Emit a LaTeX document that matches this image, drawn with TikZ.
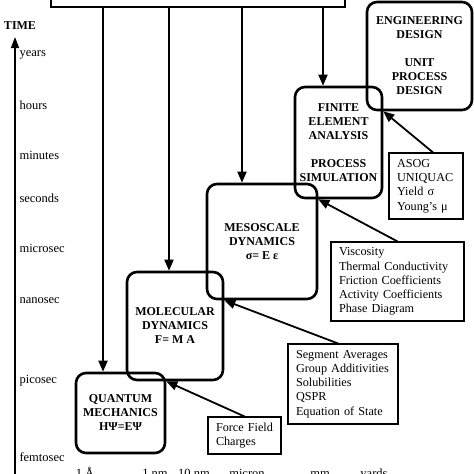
\documentclass[tikz,border=0pt]{standalone}
\usepackage{fontspec}
\setmainfont{Liberation Serif}
\usetikzlibrary{arrows.meta,calc}
\tikzset{
    scale box/.style={draw, line width=2.6pt, rounded corners=10pt, align=center, inner sep=0pt,
        font=\bfseries\fontsize{12}{14}\selectfont},
    data box/.style={draw, line width=1.1pt, align=left, inner xsep=8pt, inner ysep=0pt,
        font=\fontsize{12.2}{14.2}\selectfont},
    link arrow/.style={-{Triangle[length=11pt,width=9pt]}, line width=1.8pt},
    time label/.style={anchor=west, font=\fontsize{12.5}{14}\selectfont},
    size label/.style={anchor=base, font=\fontsize{12.5}{14}\selectfont}
}
\begin{document}
\begin{tikzpicture}[x=1pt,y=-1pt]
\useasboundingbox (0,0) rectangle (474,474);
\clip (0,0) rectangle (474,474);
\draw[line width=1.1pt] (51,-30) rectangle (345,7);
\coordinate (s1) at (103,7);
\coordinate (s2) at (169,7);
\coordinate (s3) at (242,7);
\coordinate (s4) at (323,7);

\node[scale box, minimum width=105pt, minimum height=108pt] (eng) at (419.5,56) {ENGINEERING\\DESIGN\\[14pt]UNIT\\PROCESS\\DESIGN};
\node[scale box, minimum width=87pt, minimum height=111pt] (fe) at (338.5,142.5) {FINITE\\ELEMENT\\ANALYSIS\\[14pt]PROCESS\\SIMULATION};
\node[scale box, minimum width=110pt, minimum height=115pt] (ms) at (262,241.5) {MESOSCALE\\DYNAMICS\\σ= E ε};
\node[scale box, minimum width=96pt, minimum height=108pt] (md) at (175,326) {MOLECULAR\\DYNAMICS\\F= M A};
\node[scale box, minimum width=89pt, minimum height=80pt] (qm) at (120.5,413) {QUANTUM\\MECHANICS\\HΨ=EΨ};

\node[data box, text width=58pt, minimum height=66pt] (asog) at (426,186) {ASOG\\UNIQUAC\\Yield σ\\Young's μ};
\node[data box, text width=117pt, minimum height=79pt] (visc) at (397.5,281.5) {Viscosity\\Thermal Conductivity\\Friction Coefficients\\Activity Coefficients\\Phase Diagram};
\node[data box, text width=94pt, minimum height=80pt] (seg) at (343,384) {Segment Averages\\Group Additivities\\Solubilities\\QSPR\\Equation of State};
\node[data box, text width=57pt, minimum height=37pt] (ff) at (244.5,435.5) {Force Field\\Charges};

\draw[link arrow] (s1) -- (s1 |- qm.north);
\draw[link arrow] (s2) -- (s2 |- md.north);
\draw[link arrow] (s3) -- (s3 |- ms.north);
\draw[link arrow] (s4) -- (s4 |- fe.north);

\draw[link arrow] ($(asog.north)+(7,0)$) -- (eng.south -| fe.east);
\draw[link arrow] (visc.north) -- (fe.south -| ms.east);
\draw[link arrow] ($(seg.north)+(-5,0)$) -- (ms.south -| md.east);
\draw[link arrow] (ff.north) -- (md.south -| qm.east);

\coordinate (t0) at (15,480);
\coordinate (t1) at (15,37);
\draw[-{Triangle[length=11pt,width=8pt]}, line width=1.4pt] (t0) -- (t1);
\node[font=\bfseries\fontsize{12}{14}\selectfont] (time) at (20,26) {TIME};
\node[time label] (y1) at (16,55) {years};
\node[time label] (y2) at (16,105) {hours};
\node[time label] (y3) at (16,155) {minutes};
\node[time label] (y4) at (16,198) {seconds};
\node[time label] (y5) at (16,248) {microsec};
\node[time label] (y6) at (16,301) {nanosec};
\node[time label] (y7) at (16,381) {picosec};
\node[time label] (y8) at (16,457) {femtosec};

\node[size label] (x1) at (85,477) {1 Å};
\node[size label] (x2) at (155,477) {1 nm};
\node[size label] (x3) at (194,477) {10 nm};
\node[size label] (x4) at (247,477) {micron};
\node[size label] (x5) at (320,477) {mm};
\node[size label] (x6) at (374,477) {yards};
\end{tikzpicture}
\end{document}
